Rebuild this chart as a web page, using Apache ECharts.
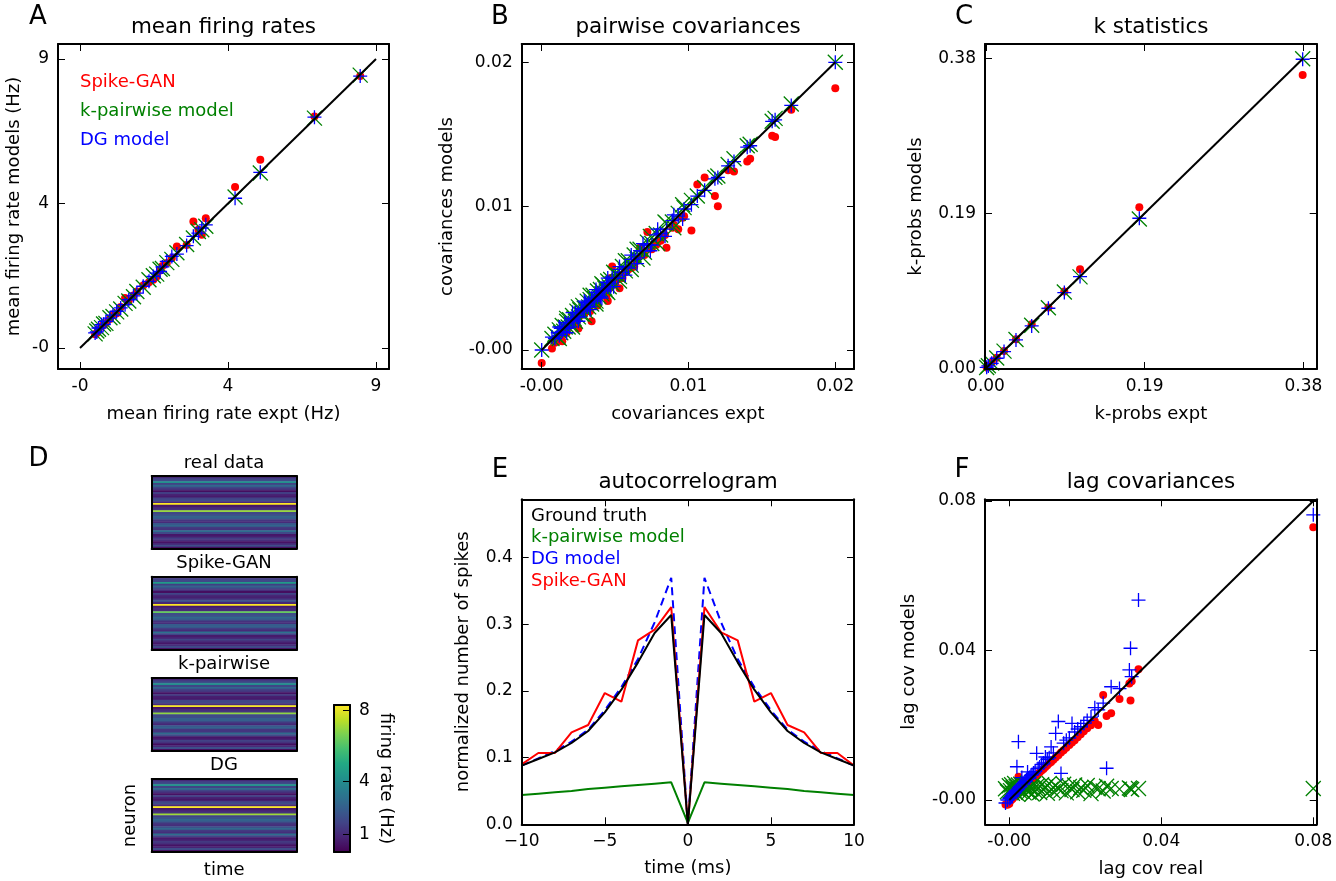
<!DOCTYPE html>
<html>
<head>
<meta charset="utf-8">
<title>Spike-GAN statistics</title>
<script src="https://cdn.jsdelivr.net/npm/echarts@6/dist/echarts.min.js"></script>
<style>
html, body { margin: 0; padding: 0; background: #fff; }
#main { width: 1336px; height: 881px; }
</style>
</head>
<body>
<div id="main"></div>
<script>
"use strict";

var FONT = "DejaVu Sans";

// ---- A: mean firing rates (Hz), one entry per neuron
var rateTicks = [0, 4.4, 8.8];
var rateTickLabels = ["-0", "4", "9"];
var rateLineEnds = [0, 8.8];
var rateExpt = [8.33, 6.97, 5.36, 4.61, 3.74, 3.62, 3.52, 3.37, 3.17, 2.88, 2.73, 2.58, 2.45, 2.38, 2.28, 2.18,
    2.05, 1.88, 1.69, 1.59, 1.45, 1.34, 1.21, 1.09, 0.98, 0.89, 0.77, 0.70, 0.64, 0.55, 0.50, 0.45];
var rateGAN = [8.28, 7.05, 5.73, 4.90, 3.95, 3.45, 3.60, 3.85, 3.14, 3.09, 2.74, 2.59, 2.50, 2.36, 2.18, 2.08,
    2.00, 1.90, 1.72, 1.60, 1.45, 1.52, 1.25, 1.06, 1.02, 0.88, 0.76, 0.70, 0.66, 0.55, 0.46, 0.42];
var rateKpw = [8.31, 7.00, 5.33, 4.60, 3.71, 3.60, 3.55, 3.35, 3.15, 2.90, 2.70, 2.60, 2.42, 2.40, 2.25, 2.20,
    2.08, 1.85, 1.72, 1.56, 1.43, 1.36, 1.19, 1.10, 0.96, 0.92, 0.75, 0.73, 0.62, 0.57, 0.52, 0.43];
var rateDG = [8.28, 7.03, 5.35, 4.56, 3.75, 3.65, 3.50, 3.40, 3.12, 2.86, 2.79, 2.64, 2.47, 2.33, 2.28, 2.18,
    2.03, 1.88, 1.67, 1.59, 1.47, 1.32, 1.22, 1.12, 1.00, 0.91, 0.81, 0.72, 0.71, 0.61, 0.49, 0.46];

// ---- B: pairwise covariances
var covTicks = [0, 0.01, 0.02];
var covTickLabels = ["-0.00", "0.01", "0.02"];
var covLineEnds = [0, 0.02];
var covExpt = [0.0000, 0.0007, 0.0009, 0.0011, 0.0012, 0.0013, 0.0014, 0.0015, 0.0016, 0.0017,
    0.0018, 0.0019, 0.0020, 0.0021, 0.0022, 0.0023, 0.0024, 0.0025, 0.0026, 0.0027,
    0.0028, 0.0029, 0.0030, 0.0031, 0.0032, 0.0033, 0.0034, 0.0035, 0.0036, 0.0037,
    0.0038, 0.0039, 0.0040, 0.0041, 0.0042, 0.0043, 0.0044, 0.0045, 0.0046, 0.0047,
    0.0048, 0.0050, 0.0052, 0.0053, 0.0055, 0.0057, 0.0059, 0.0061, 0.0063, 0.0065,
    0.0067, 0.0070, 0.0072, 0.0075, 0.0078, 0.0081, 0.0085, 0.0089, 0.0093, 0.0097,
    0.0102, 0.0106, 0.0111, 0.0118, 0.0120, 0.0127, 0.0131, 0.0140, 0.0142, 0.0157,
    0.0159, 0.0170, 0.0200,
    0.0012, 0.0017, 0.0021, 0.0025, 0.0029, 0.0033, 0.0037, 0.0041, 0.0045, 0.0049,
    0.0053, 0.0057, 0.0061, 0.0065, 0.0069, 0.0074, 0.0079, 0.0084, 0.0090, 0.0096];
var covGAN = [-0.0009, 0.0001, 0.0005, 0.0006, 0.0011, 0.0009, 0.0006, 0.0012, 0.0014, 0.0012,
    0.0016, 0.0017, 0.0018, 0.0020, 0.0019, 0.0018, 0.0020, 0.0015, 0.0024, 0.0025,
    0.0027, 0.0025, 0.0028, 0.0029, 0.0031, 0.0027, 0.0020, 0.0033, 0.0034, 0.0035,
    0.0031, 0.0037, 0.0038, 0.0039, 0.0040, 0.0041, 0.0037, 0.0034, 0.0043, 0.0050,
    0.0058, 0.0047, 0.0049, 0.0043, 0.0050, 0.0054, 0.0056, 0.0057, 0.0058, 0.0063,
    0.0071, 0.0066, 0.0082, 0.0070, 0.0073, 0.0076, 0.0071, 0.0085, 0.0084, 0.0093,
    0.0083, 0.0115, 0.0120, 0.0107, 0.0100, 0.0125, 0.0124, 0.0131, 0.0133, 0.0149,
    0.0148, 0.0167, 0.0182,
    0.0010, 0.0014, 0.0019, 0.0022, 0.0027, 0.0031, 0.0034, 0.0038, 0.0043, 0.0046,
    0.0051, 0.0055, 0.0058, 0.0062, 0.0066, 0.0071, 0.0075, 0.0080, 0.0087, 0.0092];
var covKpw = [0.0000, 0.0008, 0.0011, 0.0009, 0.0014, 0.0012, 0.0017, 0.0013, 0.0016, 0.0020,
    0.0016, 0.0021, 0.0018, 0.0024, 0.0022, 0.0020, 0.0027, 0.0023, 0.0028, 0.0025,
    0.0031, 0.0029, 0.0027, 0.0034, 0.0030, 0.0035, 0.0032, 0.0038, 0.0036, 0.0034,
    0.0041, 0.0037, 0.0042, 0.0039, 0.0045, 0.0043, 0.0041, 0.0048, 0.0044, 0.0049,
    0.0046, 0.0053, 0.0052, 0.0051, 0.0058, 0.0055, 0.0062, 0.0059, 0.0066, 0.0063,
    0.0070, 0.0068, 0.0075, 0.0074, 0.0081, 0.0080, 0.0088, 0.0089, 0.0095, 0.0099,
    0.0104, 0.0107, 0.0113, 0.0120, 0.0121, 0.0129, 0.0133, 0.0142, 0.0143, 0.0159,
    0.0161, 0.0171, 0.0200,
    0.0008, 0.0022, 0.0016, 0.0030, 0.0024, 0.0038, 0.0032, 0.0046, 0.0040, 0.0054,
    0.0048, 0.0062, 0.0056, 0.0070, 0.0064, 0.0079, 0.0074, 0.0089, 0.0085, 0.0101];
var covDG = [0.0000, 0.0009, 0.0008, 0.0012, 0.0010, 0.0015, 0.0013, 0.0015, 0.0019, 0.0015,
    0.0019, 0.0016, 0.0022, 0.0021, 0.0020, 0.0026, 0.0023, 0.0026, 0.0023, 0.0029,
    0.0028, 0.0027, 0.0033, 0.0030, 0.0033, 0.0030, 0.0036, 0.0035, 0.0034, 0.0040,
    0.0037, 0.0040, 0.0037, 0.0043, 0.0042, 0.0041, 0.0047, 0.0044, 0.0047, 0.0044,
    0.0050, 0.0050, 0.0050, 0.0056, 0.0054, 0.0058, 0.0057, 0.0063, 0.0063, 0.0064,
    0.0069, 0.0069, 0.0073, 0.0073, 0.0080, 0.0081, 0.0084, 0.0090, 0.0093, 0.0098,
    0.0101, 0.0107, 0.0111, 0.0119, 0.0120, 0.0128, 0.0131, 0.0141, 0.0142, 0.0159,
    0.0160, 0.0170, 0.0200,
    0.0016, 0.0012, 0.0026, 0.0020, 0.0034, 0.0028, 0.0042, 0.0036, 0.0050, 0.0044,
    0.0058, 0.0052, 0.0066, 0.0060, 0.0074, 0.0069, 0.0084, 0.0079, 0.0094, 0.0091];

// ---- C: k statistics
var kTicks = [0, 0.19, 0.38];
var kTickLabels = ["0.00", "0.19", "0.38"];
var kLineEnds = [0, 0.38];
var kExpt = [0.0008, 0.0028, 0.0068, 0.0128, 0.0216, 0.0359, 0.0547, 0.0747, 0.0938, 0.1126, 0.1836, 0.3792];
var kGAN = [0.0009, 0.0030, 0.0070, 0.0130, 0.0212, 0.0355, 0.0540, 0.0745, 0.0940, 0.1214, 0.1974, 0.3596];
var kKpw = [0.0010, 0.0031, 0.0064, 0.0126, 0.0210, 0.0352, 0.0527, 0.0741, 0.0935, 0.1120, 0.1830, 0.3795];
var kDG = [0.0012, 0.0029, 0.0060, 0.0123, 0.0204, 0.0347, 0.0519, 0.0736, 0.0928, 0.1124, 0.1839, 0.3788];

// ---- D: firing rate per neuron (rows, top to bottom)
var realRates = [0.4, 1.5, 1.9, 4.2, 1.6, 2.8, 1.7, 1.2, 0.3, 1.5, 0.8, 0.6, 1.6, 1.9, 1.0, 8.3, 0.5, 0.9, 1.2, 7.0,
    1.7, 2.0, 2.6, 2.4, 1.3, 1.0, 2.2, 2.7, 1.4, 1.2, 3.0, 1.8, 0.5, 0.7, 1.5, 1.1, 0.4, 0.9, 1.9, 0.3];
var ganRates = [0.5, 1.6, 1.8, 4.5, 1.5, 2.6, 1.8, 1.1, 0.3, 1.7, 0.9, 0.7, 1.4, 2.0, 0.9, 8.4, 0.6, 1.0, 1.0, 6.3,
    1.9, 2.1, 2.8, 2.3, 1.2, 1.1, 2.4, 2.5, 1.5, 1.0, 3.1, 1.7, 0.6, 0.8, 1.7, 1.0, 0.5, 1.1, 1.8, 0.4];
var kpwRates = [0.4, 1.4, 2.0, 4.1, 1.7, 2.7, 1.6, 1.3, 0.4, 1.4, 0.7, 0.6, 1.7, 1.8, 1.1, 8.2, 0.4, 0.9, 1.3, 6.9,
    1.8, 1.9, 2.5, 2.5, 1.4, 0.9, 2.3, 2.6, 1.3, 1.3, 2.9, 1.9, 0.5, 0.6, 1.6, 1.2, 0.3, 1.0, 2.0, 0.3];
var dgRates = [0.5, 1.5, 1.8, 4.3, 1.6, 2.9, 1.7, 1.1, 0.4, 1.6, 0.8, 0.5, 1.5, 1.9, 1.0, 8.3, 0.5, 0.8, 1.2, 7.1,
    1.6, 2.1, 2.7, 2.3, 1.3, 1.1, 2.1, 2.8, 1.4, 1.1, 3.0, 1.7, 0.6, 0.7, 1.4, 1.1, 0.4, 0.8, 1.9, 0.4];
var cbRange = [0, 8.3];
var cbTicks = [1, 4, 8];
var viridis = ["#440154", "#482475", "#414487", "#355f8d", "#2a788e", "#21918c", "#22a884", "#44bf70", "#7ad151", "#bddf26", "#fde725"];

// ---- E: autocorrelogram
var lagTimes = [-10, -9, -8, -7, -6, -5, -4, -3, -2, -1, 0, 1, 2, 3, 4, 5, 6, 7, 8, 9, 10];
var gtAcorr = [0.088, 0.098, 0.108, 0.122, 0.140, 0.168, 0.202, 0.243, 0.287, 0.314, 0.000,
    0.314, 0.287, 0.243, 0.202, 0.168, 0.140, 0.122, 0.108, 0.098, 0.088];
var kpwAcorr = [0.044, 0.046, 0.048, 0.050, 0.053, 0.055, 0.057, 0.059, 0.061, 0.063, 0.002,
    0.063, 0.061, 0.059, 0.057, 0.055, 0.053, 0.050, 0.048, 0.046, 0.044];
var dgAcorr = [0.088, 0.099, 0.110, 0.124, 0.142, 0.171, 0.206, 0.248, 0.303, 0.370, 0.000,
    0.370, 0.303, 0.248, 0.206, 0.171, 0.142, 0.124, 0.110, 0.099, 0.088];
var ganAcorr = [0.090, 0.107, 0.107, 0.138, 0.149, 0.197, 0.184, 0.276, 0.292, 0.326, 0.000,
    0.326, 0.288, 0.276, 0.184, 0.197, 0.149, 0.138, 0.107, 0.107, 0.088];
var timeTicks = [-10, -5, 0, 5, 10];
var timeTickLabels = ["\u221210", "\u22125", "0", "5", "10"];
var spikeTicks = [0, 0.1, 0.2, 0.3, 0.4];
var spikeTickLabels = ["0.0", "0.1", "0.2", "0.3", "0.4"];

// ---- F: lag covariances
var lagTicks = [0, 0.04, 0.08];
var lagTickLabels = ["-0.00", "0.04", "0.08"];
var lagLineEnds = [0, 0.08];
var lagReal = [-0.0010, -0.0005, 0.0000, 0.0003, 0.0006, 0.0008, 0.0010, 0.0012, 0.0014, 0.0016,
    0.0018, 0.0020, 0.0022, 0.0024, 0.0026, 0.0028, 0.0030, 0.0033, 0.0036, 0.0039,
    0.0042, 0.0045, 0.0048, 0.0051, 0.0054, 0.0057, 0.0060, 0.0064, 0.0068, 0.0072,
    0.0076, 0.0080, 0.0085, 0.0090, 0.0095, 0.0100, 0.0105, 0.0110, 0.0116, 0.0122,
    0.0129, 0.0136, 0.0143, 0.0150, 0.0158, 0.0165, 0.0172, 0.0180, 0.0188, 0.0196,
    0.0205, 0.0215, 0.0225, 0.0234, 0.0247, 0.0256, 0.0268, 0.0290, 0.0316, 0.0319,
    0.0322, 0.0340, 0.0800];
var lagGAN = [-0.0012, -0.0013, -0.0010, -0.0002, 0.0002, 0.0003, 0.0006, 0.0009, 0.0010, 0.0012,
    0.0015, 0.0016, 0.0018, 0.0062, 0.0022, 0.0024, 0.0026, 0.0029, 0.0031, 0.0034,
    0.0037, 0.0040, 0.0043, 0.0046, 0.0049, 0.0053, 0.0055, 0.0058, 0.0062, 0.0067,
    0.0070, 0.0074, 0.0079, 0.0083, 0.0088, 0.0093, 0.0098, 0.0102, 0.0108, 0.0114,
    0.0120, 0.0127, 0.0133, 0.0140, 0.0147, 0.0154, 0.0160, 0.0168, 0.0176, 0.0184,
    0.0192, 0.0200, 0.0211, 0.0201, 0.0281, 0.0225, 0.0232, 0.0270, 0.0312, 0.0266,
    0.0318, 0.0350, 0.0730];
var lagKpw = [0.0030, 0.0022, 0.0038, 0.0025, 0.0041, 0.0018, 0.0033, 0.0027, 0.0044, 0.0020,
    0.0036, 0.0029, 0.0015, 0.0040, 0.0031, 0.0023, 0.0042, 0.0026, 0.0035, 0.0019,
    0.0039, 0.0028, 0.0045, 0.0021, 0.0034, 0.0030, 0.0016, 0.0043, 0.0024, 0.0037,
    0.0032, 0.0020, 0.0041, 0.0027, 0.0035, 0.0018, 0.0044, 0.0029, 0.0023, 0.0038,
    0.0031, 0.0025, 0.0042, 0.0019, 0.0036, 0.0028, 0.0040, 0.0022, 0.0033, 0.0026,
    0.0039, 0.0017, 0.0034, 0.0030, 0.0024, 0.0037, 0.0031, 0.0029, 0.0032, 0.0030,
    0.0028, 0.0031, 0.0031];
var lagDG = [-0.0008, 0.0000, 0.0004, 0.0006, 0.0012, 0.0010, 0.0016, 0.0018, 0.0020, 0.0023,
    0.0025, 0.0089, 0.0028, 0.0156, 0.0033, 0.0036, 0.0037, 0.0060, 0.0044, 0.0047,
    0.0050, 0.0055, 0.0075, 0.0058, 0.0061, 0.0066, 0.0068, 0.0072, 0.0076, 0.0125,
    0.0084, 0.0088, 0.0095, 0.0099, 0.0115, 0.0109, 0.0113, 0.0142, 0.0126, 0.0178,
    0.0210, 0.0071, 0.0152, 0.0160, 0.0166, 0.0205, 0.0182, 0.0190, 0.0196, 0.0205,
    0.0213, 0.0222, 0.0247, 0.0241, 0.0259, 0.0085, 0.0303, 0.0298, 0.0348, 0.0406,
    0.0330, 0.0535, 0.0763];

var RED = "#ff0000", GREEN = "#008000", BLUE = "#0000ff";
var SYM_X = "path://M0,0L10,10M10,0L0,10";
var SYM_PLUS = "path://M5,0L5,10M0,5L10,5";

var option = {
    animation: false,
    backgroundColor: "#fff",
    textStyle: { fontFamily: FONT },
    grid: [], xAxis: [], yAxis: [], series: [], legend: [], graphic: [], visualMap: []
};

function pairs(xs, ys) {
    return xs.map(function(x, i) { return [x, ys[i]]; });
}

function tickLabel(ticks, labels) {
    return function(v) {
        for (var i = 0; i < ticks.length; i++) {
            if (Math.abs(ticks[i] - v) < 1e-9) { return labels[i]; }
        }
        return "";
    };
}

function valueAxis(gi, pos, range, ticks, labels, name, gap, rotate) {
    var a = {
        type: "value", gridIndex: gi, position: pos, min: range[0], max: range[1], z: 5,
        axisLine: { show: true, onZero: false, lineStyle: { color: "#000", width: 2 } },
        axisTick: { show: !!ticks, inside: true, length: 7, lineStyle: { color: "#000", width: 1 } },
        axisLabel: { show: !!labels, margin: 9, color: "#000", fontFamily: FONT, fontSize: 17 },
        splitLine: { show: false }
    };
    if (ticks) {
        a.axisTick.customValues = ticks;
        a.axisLabel.customValues = ticks;
    }
    if (labels) { a.axisLabel.formatter = tickLabel(ticks, labels); }
    if (name) {
        a.name = name;
        a.nameLocation = "middle";
        a.nameGap = gap;
        a.nameTextStyle = { color: "#000", fontFamily: FONT, fontSize: 18 };
        if (rotate !== undefined) { a.nameRotate = rotate; }
    }
    return a;
}

// one framed panel with ticks on all four sides
function panel(box, xr, yr, xt, xl, yt, yl, xname, xgap, yname, ygap) {
    var gi = option.grid.length;
    option.grid.push({ left: box[0], top: box[1], width: box[2], height: box[3] });
    var ax = { x: option.xAxis.length, y: option.yAxis.length };
    option.xAxis.push(valueAxis(gi, "bottom", xr, xt, xl, xname, xgap));
    option.xAxis.push(valueAxis(gi, "top", xr, xt, null));
    option.yAxis.push(valueAxis(gi, "left", yr, yt, yl, yname, ygap, 90));
    option.yAxis.push(valueAxis(gi, "right", yr, yt, null));
    return ax;
}

function diag(ax, ends) {
    option.series.push({
        type: "line", xAxisIndex: ax.x, yAxisIndex: ax.y, symbol: "none", silent: true,
        lineStyle: { color: "#000", width: 2 },
        data: [[ends[0], ends[0]], [ends[1], ends[1]]]
    });
}

function dots(ax, name, xs, ys) {
    option.series.push({
        type: "scatter", name: name, xAxisIndex: ax.x, yAxisIndex: ax.y, silent: true,
        symbol: "circle", symbolSize: 8, itemStyle: { color: RED, opacity: 1 },
        data: pairs(xs, ys)
    });
}

function marks(ax, name, xs, ys, sym, size, col) {
    option.series.push({
        type: "scatter", name: name, xAxisIndex: ax.x, yAxisIndex: ax.y, silent: true,
        symbol: sym, symbolSize: size,
        itemStyle: { color: "transparent", borderColor: col, borderWidth: 1.3, opacity: 1 },
        data: pairs(xs, ys)
    });
}

function scatterSet(ax, xs, gan, kpw, dg) {
    diag(ax, ax.ends);
    dots(ax, "Spike-GAN", xs, gan);
    marks(ax, "k-pairwise model", xs, kpw, SYM_X, 15, GREEN);
    marks(ax, "DG model", xs, dg, SYM_PLUS, 14, BLUE);
}

function text(x, y, s, size) {
    option.graphic.push({
        type: "text", x: x, y: y, silent: true,
        style: { text: s, fontSize: size, fontFamily: FONT, fill: "#000", align: "center", verticalAlign: "middle" }
    });
}

// A
var axA = panel([58, 44, 331, 325], [-0.654, 9.186], [-0.639, 9.257], rateTicks, rateTickLabels, rateTicks, rateTickLabels,
    "mean firing rate expt (Hz)", 36, "mean firing rate models (Hz)", 35);
axA.ends = rateLineEnds;
scatterSet(axA, rateExpt, rateGAN, rateKpw, rateDG);

// B
var axB = panel([521.7, 44, 332.3, 325], [-0.001362, 0.021274], [-0.001321, 0.021272], covTicks, covTickLabels, covTicks, covTickLabels,
    "covariances expt", 36, "covariances models", 65);
axB.ends = covLineEnds;
scatterSet(axB, covExpt, covGAN, covKpw, covDG);

// C
var axC = panel([985, 44, 331.7, 325], [-0.0012, 0.396], [-0.0009, 0.3975], kTicks, kTickLabels, kTicks, kTickLabels,
    "k-probs expt", 36, "k-probs models", 60);
axC.ends = kLineEnds;
scatterSet(axC, kExpt, kGAN, kKpw, kDG);

// E
var axE = panel([521.7, 499.3, 332.3, 325], [-10, 10], [0, 0.4877], timeTicks, timeTickLabels, spikeTicks, spikeTickLabels,
    "time (ms)", 35, "normalized number of spikes", 49);
[["DG model", dgAcorr, BLUE, [8, 5]], ["Spike-GAN", ganAcorr, RED, "solid"],
    ["k-pairwise model", kpwAcorr, GREEN, "solid"], ["Ground truth", gtAcorr, "#000", "solid"]].forEach(function(s) {
    option.series.push({
        type: "line", name: s[0], xAxisIndex: axE.x, yAxisIndex: axE.y, symbol: "none", silent: true,
        lineStyle: { color: s[2], width: 2, type: s[3] },
        data: pairs(lagTimes, s[1])
    });
});

// F
var axF = panel([985, 499.3, 331.7, 325], [-0.0064, 0.0809], [-0.0065, 0.08045], lagTicks, lagTickLabels, lagTicks, lagTickLabels,
    "lag cov real", 36, "lag cov models", 67);
axF.ends = lagLineEnds;
scatterSet(axF, lagReal, lagGAN, lagKpw, lagDG);

// D: four raster-like heatmaps sharing one colour scale
var heatIdx = [];
function heatPanel(box, rates, last) {
    var gi = option.grid.length;
    option.grid.push({ left: box[0], top: box[1], width: box[2], height: box[3] });
    var frame = { show: true, onZero: false, lineStyle: { color: "#000", width: 2 } };
    var xi = option.xAxis.length, yi = option.yAxis.length;
    var xb = {
        type: "category", gridIndex: gi, position: "bottom", data: ["t"], z: 5,
        axisLine: frame, axisTick: { show: false }, axisLabel: { show: false }, splitLine: { show: false }
    };
    var yl = {
        type: "category", gridIndex: gi, position: "left", inverse: true, z: 5,
        data: rates.map(function(v, i) { return i; }),
        axisLine: frame, axisTick: { show: false }, axisLabel: { show: false }, splitLine: { show: false }
    };
    if (last) {
        xb.name = "time"; xb.nameLocation = "middle"; xb.nameGap = 9;
        xb.nameTextStyle = { color: "#000", fontFamily: FONT, fontSize: 18 };
        yl.name = "neuron"; yl.nameLocation = "middle"; yl.nameGap = 12; yl.nameRotate = 90;
        yl.nameTextStyle = { color: "#000", fontFamily: FONT, fontSize: 18 };
    }
    option.xAxis.push(xb);
    option.xAxis.push(valueAxis(gi, "top", [0, 1], null, null));
    option.yAxis.push(yl);
    option.yAxis.push(valueAxis(gi, "right", [0, 1], null, null));
    heatIdx.push(option.series.length);
    option.series.push({
        type: "heatmap", xAxisIndex: xi, yAxisIndex: yi, silent: true,
        itemStyle: { borderWidth: 0 },
        data: rates.map(function(v, i) { return [0, i, v]; })
    });
}
heatPanel([151.7, 476, 145, 72.7], realRates);
heatPanel([151.7, 576.7, 145, 73.3], ganRates);
heatPanel([151.7, 678, 145, 73], kpwRates);
heatPanel([151.7, 779, 145, 73], dgRates, true);

// colour bar frame + ticks
(function() {
    var gi = option.grid.length;
    option.grid.push({ left: 334, top: 705, width: 16, height: 147 });
    option.xAxis.push(valueAxis(gi, "bottom", [0, 1], null, null));
    option.xAxis.push(valueAxis(gi, "top", [0, 1], null, null));
    option.yAxis.push(valueAxis(gi, "left", cbRange, null, null));
    option.yAxis.push(valueAxis(gi, "right", cbRange, cbTicks, cbTicks.map(String), "firing rate (Hz)", 27, -90));
})();

option.visualMap.push({
    type: "continuous", min: cbRange[0], max: cbRange[1], dimension: 2, seriesIndex: heatIdx,
    calculable: false, hoverLink: false, left: 334, top: 705, itemWidth: 16, itemHeight: 147, padding: 0,
    inRange: { color: viridis }
});

// legends drawn as coloured text only
function textLegend(left, top, gap, items) {
    option.legend.push({
        left: left, top: top, orient: "vertical", padding: 0, itemGap: gap, itemWidth: 0, itemHeight: 18,
        selectedMode: false, textStyle: { fontFamily: FONT, fontSize: 18 },
        data: items.map(function(it) { return { name: it[0], icon: "none", textStyle: { color: it[1] } }; })
    });
}
textLegend(75, 73, 11, [["Spike-GAN", RED], ["k-pairwise model", GREEN], ["DG model", BLUE]]);
textLegend(526, 507, 3.7, [["Ground truth", "#000"], ["k-pairwise model", GREEN], ["DG model", BLUE], ["Spike-GAN", RED]]);

// titles and panel letters
text(223.5, 27, "mean firing rates", 21.5);
text(688, 27, "pairwise covariances", 21.5);
text(1151, 27, "k statistics", 21.5);
text(688, 482, "autocorrelogram", 21.5);
text(1151, 482, "lag covariances", 21.5);
text(224, 463, "real data", 18);
text(224, 563, "Spike-GAN", 18);
text(224, 664, "k-pairwise", 18);
text(224, 765, "DG", 18);
text(38, 17, "A", 26);
text(500, 17, "B", 26);
text(964, 17, "C", 26);
text(38.5, 459, "D", 26);
text(500, 470, "E", 26);
text(962, 470, "F", 26);

var chart = echarts.init(document.getElementById("main"), null, { renderer: "canvas" });
chart.setOption(option);
</script>
</body>
</html>
